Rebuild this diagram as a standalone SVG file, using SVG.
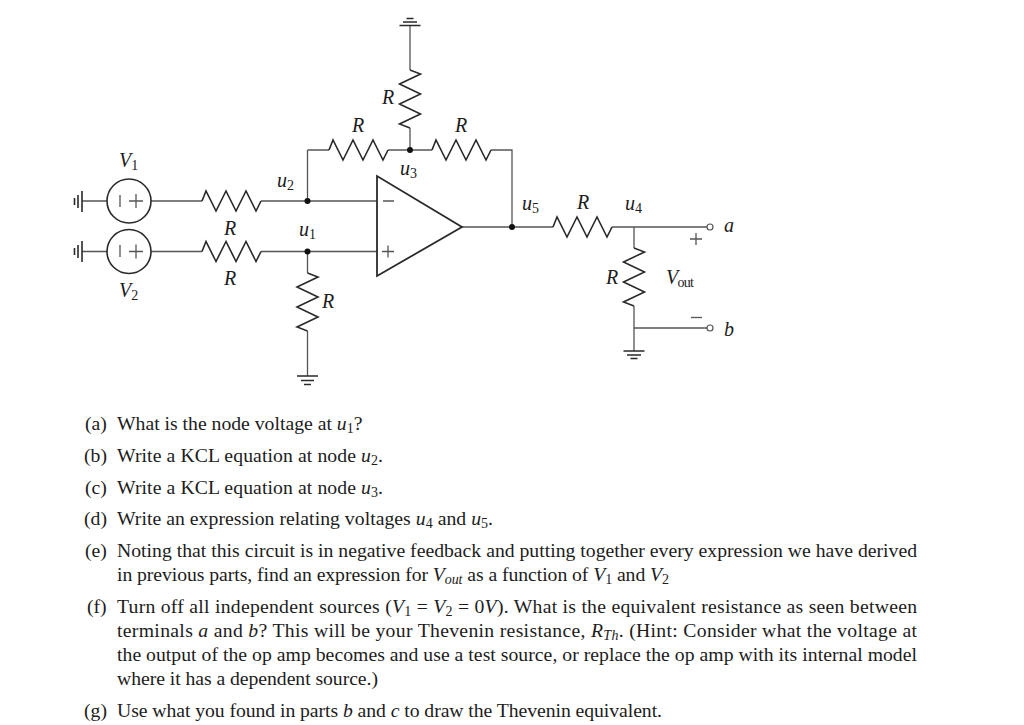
<svg xmlns="http://www.w3.org/2000/svg" width="1024" height="725" viewBox="0 0 1024 725">
<style>
text{font-family:"Liberation Serif","Times New Roman",serif;fill:#1c1c1c}
.q{font-size:19.700px}
.l{font-size:20px;font-style:italic}
.i{font-style:italic}
.s{font-size:14px}
.n{font-style:normal}
.w{fill:none;stroke:#555;stroke-width:1.3}
.r{fill:none;stroke:#2a2a2a;stroke-width:1.600}
.b{fill:none;stroke:#2a2a2a;stroke-width:1.600}
.d{fill:#111}
.o{fill:#fff;stroke:#555;stroke-width:1.200}
</style>
<defs>
<polyline id="rh" class="r" points="0,0 4,-10 14,10 24,-10 34,10 44,-10 54,10 59,0"/>
<polyline id="rv" class="r" points="0,0 10.500,4 -10.500,14 10.500,24 -10.500,34 10.500,44 -10.500,54 0,58"/>
</defs>
<rect width="1024" height="725" fill="#fff"/>
<g id="connectors">
<path class="w" d="M82 201H107M151 201H202M261 201H377M82 251.500H107M151 251.500H202M261 251.500H377M307.500 150V201M307.500 251.500V273M307.500 331V376M307.500 150H329M388 150H432M491 150H512V227M410 128V150M410 25V70M462 227H553M612 227H707M634 227V248M634 306V351M634 328H707"/>
</g>
<g id="source1"><circle class="b" cx="129" cy="201" r="22"/><path class="w" d="M120 195V207M129 201H143M136 194V208"/></g>
<g id="source2"><circle class="b" cx="129" cy="251.500" r="22"/><path class="w" d="M120 245V257M129 251.500H143M136 244.500V258.500"/></g>
<g id="ground1"><path class="b" d="M82 191V212M78 195V208M74.500 198V205"/></g>
<g id="ground2"><path class="b" d="M82 241V262M78 245V258M74.500 248V255"/></g>
<g id="ground3"><path class="b" d="M297 376H318M301 380.500H314M304 384.500H311"/></g>
<g id="ground4"><path class="b" d="M399.500 25.500H420.500M403 22H417M406.500 18.500H413.500"/></g>
<g id="ground5"><path class="b" d="M623.500 351H644.500M627 355H641M630.500 358.500H637.500"/></g>
<g id="r1"><use href="#rh" x="202" y="201"/></g>
<g id="r2"><use href="#rh" x="202" y="251.500"/></g>
<g id="r3"><use href="#rv" x="307.500" y="273"/></g>
<g id="r4"><use href="#rh" x="329" y="150"/></g>
<g id="r5"><use href="#rh" x="432" y="150"/></g>
<g id="r6"><use href="#rv" x="410" y="70"/></g>
<g id="r7"><use href="#rh" x="553" y="227"/></g>
<g id="r8"><use href="#rv" x="634" y="248"/></g>
<g id="opamp"><path d="M377 176V276L462 227Z" fill="#fff" stroke="#2a2a2a" stroke-width="1.800"/><path class="w" d="M383 201H394M382 251.500H394M388 245.500V257.500"/></g>
<g id="junctions"><circle class="d" cx="307.500" cy="201" r="3"/><circle class="d" cx="307.500" cy="251.500" r="3"/><circle class="d" cx="410" cy="150" r="3"/><circle class="d" cx="512" cy="227" r="3"/></g>
<g id="terminal-a"><circle class="o" cx="710" cy="227" r="3"/><path class="w" d="M690 239H702M696 233V245"/></g>
<g id="terminal-b"><circle class="o" cx="710" cy="328" r="3"/><path class="w" d="M691 317.500H702"/></g>
<g id="labels">
<text class="l" x="119" y="167">V<tspan class="s n" dy="3">1</tspan></text>
<text class="l" x="119" y="297">V<tspan class="s n" dy="3">2</tspan></text>
<text class="l" x="277" y="187">u<tspan class="s n" dy="3">2</tspan></text>
<text class="l" x="299" y="236">u<tspan class="s n" dy="3">1</tspan></text>
<text class="l" x="400" y="175">u<tspan class="s n" dy="3">3</tspan></text>
<text class="l" x="522" y="210">u<tspan class="s n" dy="3">5</tspan></text>
<text class="l" x="625" y="210">u<tspan class="s n" dy="3">4</tspan></text>
<text class="l" x="224" y="235">R</text>
<text class="l" x="224" y="285">R</text>
<text class="l" x="322" y="308">R</text>
<text class="l" x="382" y="104">R</text>
<text class="l" x="352" y="132">R</text>
<text class="l" x="455" y="132">R</text>
<text class="l" x="577" y="209">R</text>
<text class="l" x="606" y="284">R</text>
<text class="l" x="666" y="284" textLength="28">V<tspan class="s n" dy="3">out</tspan></text>
<text class="l" x="724" y="232">a</text>
<text class="l" x="724" y="336">b</text>
</g>
<g id="questions">
<text class="q" x="85" y="430">(a)</text>
<text class="q" x="117" y="430">What is the node voltage at <tspan class="i">u</tspan><tspan class="s" dy="3">1</tspan><tspan dy="-3">?</tspan></text>
<text class="q" x="84" y="462">(b)</text>
<text class="q" x="117" y="462" textLength="266">Write a KCL equation at node <tspan class="i">u</tspan><tspan class="s" dy="3">2</tspan><tspan dy="-3">.</tspan></text>
<text class="q" x="85" y="494">(c)</text>
<text class="q" x="117" y="494" textLength="266">Write a KCL equation at node <tspan class="i">u</tspan><tspan class="s" dy="3">3</tspan><tspan dy="-3">.</tspan></text>
<text class="q" x="84" y="525">(d)</text>
<text class="q" x="117" y="525" textLength="376">Write an expression relating voltages <tspan class="i">u</tspan><tspan class="s" dy="3">4</tspan><tspan dy="-3"> and </tspan><tspan class="i">u</tspan><tspan class="s" dy="3">5</tspan><tspan dy="-3">.</tspan></text>
<text class="q" x="85" y="557">(e)</text>
<text class="q" x="117" y="557" textLength="800">Noting that this circuit is in negative feedback and putting together every expression we have derived</text>
<text class="q" x="117" y="581" textLength="552">in previous parts, find an expression for <tspan class="i">V</tspan><tspan class="s i" dy="3">out</tspan><tspan dy="-3"> as a function of </tspan><tspan class="i">V</tspan><tspan class="s" dy="3">1</tspan><tspan dy="-3"> and </tspan><tspan class="i">V</tspan><tspan class="s" dy="3">2</tspan></text>
<text class="q" x="87" y="613">(f)</text>
<text class="q" x="117" y="613" textLength="800">Turn off all independent sources (<tspan class="i">V</tspan><tspan class="s" dy="3">1</tspan><tspan dy="-3"> = </tspan><tspan class="i">V</tspan><tspan class="s" dy="3">2</tspan><tspan dy="-3"> = 0</tspan><tspan class="i">V</tspan>). What is the equivalent resistance as seen between</text>
<text class="q" x="117" y="637" textLength="800">terminals <tspan class="i">a</tspan> and <tspan class="i">b</tspan>? This will be your Thevenin resistance, <tspan class="i">R</tspan><tspan class="s i" dy="3">Th</tspan><tspan dy="-3">. (Hint: Consider what the voltage at</tspan></text>
<text class="q" x="117" y="661" textLength="800">the output of the op amp becomes and use a test source, or replace the op amp with its internal model</text>
<text class="q" x="117" y="685" textLength="261">where it has a dependent source.)</text>
<text class="q" x="84" y="717">(g)</text>
<text class="q" x="117" y="717" textLength="545">Use what you found in parts <tspan class="i">b</tspan> and <tspan class="i">c</tspan> to draw the Thevenin equivalent.</text>
</g>
</svg>
